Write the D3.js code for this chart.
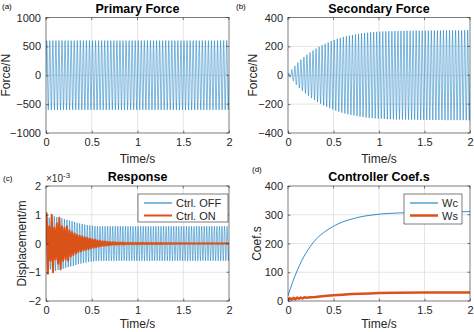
<!DOCTYPE html>
<html>
<head>
<meta charset="utf-8">
<script src="https://cdn.jsdelivr.net/npm/d3@7"></script>
<style>
  body { margin: 0; background: #fff; }
  svg { display: block; font-family: "Liberation Sans", Arial, sans-serif; }
</style>
</head>
<body>
<svg id="chart"></svg>
<script>
const W = 474, H = 332;

const timeTicks = [0, 0.5, 1, 1.5, 2];
const primaryTicks = [-1000, -500, 0, 500, 1000];
const secondaryTicks = [-400, -200, 0, 200, 400];
const responseTicks = [-2, -1, 0, 1, 2];       // x 10^-3
const coefTicks = [0, 100, 200, 300, 400];

// peak amplitude of each cycle (60 cycles over 2 s)
const primaryPeaks = [
  600, 600, 600, 600, 600, 600, 600, 600, 600, 600,
  600, 600, 600, 600, 600, 600, 600, 600, 600, 600,
  600, 600, 600, 600, 600, 600, 600, 600, 600, 600,
  600, 600, 600, 600, 600, 600, 600, 600, 600, 600,
  600, 600, 600, 600, 600, 600, 600, 600, 600, 600,
  600, 600, 600, 600, 600, 600, 600, 600, 600, 600
];
const secondaryPeaks = [
  15, 40, 65, 88, 108, 126, 143, 158, 172, 185,
  197, 208, 218, 228, 237, 245, 252, 259, 265, 270,
  275, 279, 283, 287, 290, 293, 295, 297, 299, 301,
  302, 303, 304, 305, 305, 306, 306, 307, 307, 308,
  308, 308, 309, 309, 309, 309, 310, 310, 310, 310,
  310, 311, 311, 311, 311, 311, 311, 311, 312, 312
];

// response peaks per cycle (72 cycles over 2 s), units of 1e-3 m
const ctrlOffPeaks = [
  0.5, 0.9, 1.0, 0.95, 0.92, 0.9, 0.88, 0.85, 0.82, 0.8,
  0.78, 0.75, 0.72, 0.7, 0.68, 0.66, 0.64, 0.63, 0.62, 0.61,
  0.6, 0.6, 0.6, 0.6, 0.6, 0.6, 0.6, 0.6, 0.6, 0.6,
  0.6, 0.6, 0.6, 0.6, 0.6, 0.6, 0.6, 0.6, 0.6, 0.6,
  0.6, 0.6, 0.6, 0.6, 0.6, 0.6, 0.6, 0.6, 0.6, 0.6,
  0.6, 0.6, 0.6, 0.6, 0.6, 0.6, 0.6, 0.6, 0.6, 0.6,
  0.6, 0.6, 0.6, 0.6, 0.6, 0.6, 0.6, 0.6, 0.6, 0.6,
  0.6, 0.6
];
const ctrlOnPeaks = [
  1.05, 0.6, 1.0, 0.55, 0.7, 0.9, 0.6, 0.55, 0.6, 0.45,
  0.4, 0.35, 0.3, 0.27, 0.24, 0.22, 0.2, 0.17, 0.15, 0.13,
  0.11, 0.09, 0.08, 0.07, 0.06, 0.05, 0.045, 0.04, 0.035, 0.03,
  0.03, 0.028, 0.026, 0.025, 0.024, 0.023, 0.022, 0.021, 0.02, 0.02,
  0.019, 0.018, 0.018, 0.017, 0.016, 0.016, 0.015, 0.015, 0.014, 0.014,
  0.013, 0.013, 0.012, 0.012, 0.012, 0.011, 0.011, 0.011, 0.01, 0.01,
  0.01, 0.01, 0.01, 0.01, 0.01, 0.01, 0.01, 0.01, 0.01, 0.01,
  0.01, 0.01
];

// controller coefficients
const wcTime = [0, 0.05, 0.1, 0.15, 0.2, 0.25, 0.3, 0.4, 0.5, 0.6, 0.7, 0.8, 0.9, 1.0, 1.2, 1.4, 1.6, 1.8, 2.0];
const wcValue = [18, 65, 105, 140, 168, 192, 212, 240, 260, 275, 285, 293, 298, 302, 306, 308, 309, 310, 311];
const wsTime = [0, 0.02, 0.04, 0.06, 0.08, 0.1, 0.12, 0.14, 0.16, 0.18, 0.2, 0.25, 0.3, 0.4, 0.5, 0.6, 0.7, 0.8, 0.9, 1.0, 1.2, 1.5, 2.0];
const wsValue = [3, 10, 5, 11, 6, 12, 8, 12, 9, 13, 11, 13, 14, 17, 20, 22, 24, 25.5, 26.5, 27.5, 28.5, 29.5, 30];

const blue = "#0072BD", orange = "#D95319", ink = "#262626";

const svg = d3.select("#chart").attr("width", W).attr("height", H);

// oscillating signal built from per-cycle peaks
function wave(peaks, tEnd) {
  const n = peaks.length, steps = 8, pts = [];
  peaks.forEach((a, k) => {
    for (let j = 0; j < steps; j++) {
      const t = (k + j / steps) / n * tEnd;
      pts.push([t, a * Math.sin(2 * Math.PI * j / steps)]);
    }
  });
  pts.push([tEnd, 0]);
  return pts;
}

function panel(o) {
  const x = d3.scaleLinear().domain([0, 2]).range([o.x0, o.x1]);
  const y = d3.scaleLinear().domain(d3.extent(o.yTicks)).range([o.y1, o.y0]);
  const g = svg.append("g");

  // grid
  g.selectAll(".gx").data(o.xTicks.slice(1, -1)).enter().append("line")
    .attr("x1", d => x(d)).attr("x2", d => x(d)).attr("y1", o.y0).attr("y2", o.y1)
    .attr("stroke", "#dedede").attr("stroke-width", 0.8);
  g.selectAll(".gy").data(o.yTicks.slice(1, -1)).enter().append("line")
    .attr("y1", d => y(d)).attr("y2", d => y(d)).attr("x1", o.x0).attr("x2", o.x1)
    .attr("stroke", "#dedede").attr("stroke-width", 0.8);

  const clipId = "clip" + o.id;
  svg.append("clipPath").attr("id", clipId).append("rect")
    .attr("x", o.x0).attr("y", o.y0).attr("width", o.x1 - o.x0).attr("height", o.y1 - o.y0);
  const plot = g.append("g").attr("clip-path", `url(#${clipId})`);
  const line = d3.line().x(d => x(d[0])).y(d => y(d[1]));
  o.series.forEach(s => {
    plot.append("path").datum(s.data)
      .attr("d", line.curve(s.curve || d3.curveLinear))
      .attr("fill", "none").attr("stroke", s.color).attr("stroke-width", s.width)
      .attr("stroke-linejoin", "round");
  });

  // axes: ticks inward, box on
  const ax = g.append("g").attr("transform", `translate(0,${o.y1})`)
    .call(d3.axisBottom(x).tickValues(o.xTicks).tickSize(-2.5).tickPadding(5).tickFormat(d3.format("")));
  const ay = g.append("g").attr("transform", `translate(${o.x0},0)`)
    .call(d3.axisLeft(y).tickValues(o.yTicks).tickSize(-2.5).tickPadding(5).tickFormat(d3.format("")));
  [ax, ay].forEach(a => {
    a.select(".domain").remove();
    a.selectAll("line").attr("stroke", ink).attr("stroke-width", 0.6);
    a.selectAll("text").attr("fill", ink).style("font-size", "11px")
      .style("font-family", "'Liberation Sans', Arial, sans-serif");
  });
  g.append("g").selectAll("line").data(o.xTicks).enter().append("line")
    .attr("x1", d => x(d)).attr("x2", d => x(d)).attr("y1", o.y0).attr("y2", o.y0 + 2.5)
    .attr("stroke", ink).attr("stroke-width", 0.6);
  g.append("g").selectAll("line").data(o.yTicks).enter().append("line")
    .attr("y1", d => y(d)).attr("y2", d => y(d)).attr("x1", o.x1).attr("x2", o.x1 - 2.5)
    .attr("stroke", ink).attr("stroke-width", 0.6);
  g.append("rect").attr("x", o.x0).attr("y", o.y0)
    .attr("width", o.x1 - o.x0).attr("height", o.y1 - o.y0)
    .attr("fill", "none").attr("stroke", ink).attr("stroke-width", 0.6);

  g.append("text").attr("x", (o.x0 + o.x1) / 2).attr("y", o.y0 - 5)
    .attr("text-anchor", "middle").attr("font-weight", "bold").attr("font-size", 12.5)
    .attr("fill", "#000").text(o.title);
  g.append("text").attr("x", (o.x0 + o.x1) / 2).attr("y", o.y1 + (o.xlabGap || 30))
    .attr("text-anchor", "middle").attr("font-size", 12).attr("fill", ink).text("Time/s");
  g.append("text").attr("transform", `translate(${o.ylabX},${(o.y0 + o.y1) / 2}) rotate(-90)`)
    .attr("text-anchor", "middle").attr("font-size", 12).attr("fill", ink).text(o.ylabel);
  g.append("text").attr("x", o.tagX).attr("y", o.tagY).attr("font-size", 8)
    .attr("fill", "#000").text(o.tag);

  if (o.legend) {
    const L = o.legend;
    const lg = g.append("g");
    lg.append("rect").attr("x", L.x).attr("y", L.y).attr("width", L.w).attr("height", L.h)
      .attr("fill", "#fff").attr("stroke", ink).attr("stroke-width", 0.6);
    o.series.forEach((s, i) => {
      const cy = L.y + 9 + i * 12.5;
      lg.append("line").attr("x1", L.x + 6).attr("x2", L.x + L.lineW)
        .attr("y1", cy).attr("y2", cy).attr("stroke", s.color).attr("stroke-width", s.width < 1 ? 1 : s.width);
      lg.append("text").attr("x", L.x + L.lineW + 4).attr("y", cy + 4)
        .attr("font-size", 11).attr("fill", ink).text(s.name);
    });
  }
  return g;
}

panel({
  id: "a", x0: 46, x1: 229, y0: 17.5, y1: 133,
  xTicks: timeTicks, yTicks: primaryTicks, title: "Primary Force", ylabel: "Force/N",
  ylabX: 10, tag: "(a)", tagX: 2, tagY: 9,
  series: [{ data: wave(primaryPeaks, 2), color: blue, width: 0.5 }]
});
panel({
  id: "b", x0: 288, x1: 470, y0: 17.5, y1: 133,
  xTicks: timeTicks, yTicks: secondaryTicks, title: "Secondary Force", ylabel: "Force/N",
  ylabX: 257, tag: "(b)", tagX: 236, tagY: 9,
  series: [{ data: wave(secondaryPeaks, 2), color: blue, width: 0.5 }]
});
const gc = panel({
  id: "c", x0: 46, x1: 229, y0: 186, y1: 301,
  xTicks: timeTicks, yTicks: responseTicks, title: "Response", ylabel: "Displacement/m",
  ylabX: 26, tag: "(c)", tagX: 3, tagY: 181, xlabGap: 27,
  series: [
    { name: "Ctrl. OFF", data: wave(ctrlOffPeaks, 2), color: blue, width: 0.5 },
    { name: "Ctrl. ON", data: wave(ctrlOnPeaks, 2), color: orange, width: 2 }
  ],
  legend: { x: 138, y: 194, w: 90, h: 28, lineW: 34 }
});
gc.append("text").attr("x", 46).attr("y", 182).attr("font-size", 10).attr("fill", ink)
  .html("×10<tspan dy='-4' font-size='8'>-3</tspan>");
panel({
  id: "d", x0: 288, x1: 470, y0: 186, y1: 301,
  xTicks: timeTicks, yTicks: coefTicks, title: "Controller Coef.s", ylabel: "Coef.s",
  ylabX: 261, tag: "(d)", tagX: 252, tagY: 172, xlabGap: 27,
  series: [
    { name: "Wc", data: wcTime.map((t, i) => [t, wcValue[i]]), color: blue, width: 0.8, curve: d3.curveMonotoneX },
    { name: "Ws", data: wsTime.map((t, i) => [t, wsValue[i]]), color: orange, width: 2.5 }
  ],
  legend: { x: 404, y: 194, w: 58, h: 30, lineW: 34 }
});
</script>
</body>
</html>
